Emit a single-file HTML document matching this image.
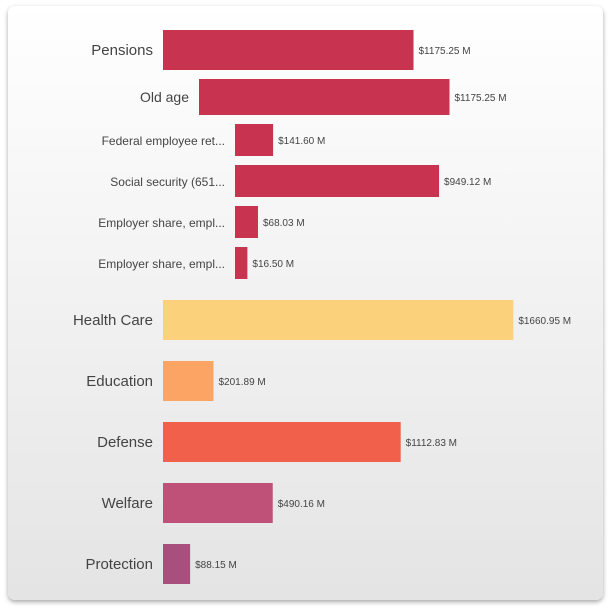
<!DOCTYPE html>
<html><head><meta charset="utf-8"><style>
html,body{margin:0;padding:0;width:611px;height:611px;background:#fff;overflow:hidden}
#panel{position:absolute;left:8px;top:6px;width:595px;height:594px;border-radius:7px;background:linear-gradient(#ffffff,#e4e4e4);box-shadow:0 2px 5px rgba(0,0,0,0.35)}
svg{position:absolute;left:0;top:0}
text{font-family:"Liberation Sans",sans-serif;fill:#444}
</style></head><body>
<div id="panel"></div>
<svg id="chart" width="611" height="611"></svg>
<script>
const labels=["Pensions","Old age","Federal employee ret...","Social security (651...","Employer share, empl...","Employer share, empl...","Health Care","Education","Defense","Welfare","Protection"];
const values=[1175.25,1175.25,141.60,949.12,68.03,16.50,1660.95,201.89,1112.83,490.16,88.15];
const levels=[0,1,2,2,2,2,0,0,0,0,0];
const colors=["#c8344f","#c8344f","#c8344f","#c8344f","#c8344f","#c8344f","#fbd27b","#fca463","#f0604a","#bf5077","#a94f7e"];
const rowTop=[30,79,124,165,206,247,300,361,422,483,544];
const rowH=[40,36,32,32,32,32,40,40,40,40,40];
const svg=document.getElementById('chart');
const NS='http://www.w3.org/2000/svg';
function xw(v){return 9+0.2055*v;}
const starts=[163,199,235];
labels.forEach((lab,i)=>{
  const x0=starts[levels[i]];
  const w=xw(values[i]);
  const r=document.createElementNS(NS,'rect');
  r.setAttribute('x',x0);r.setAttribute('y',rowTop[i]);r.setAttribute('width',w);r.setAttribute('height',rowH[i]);r.setAttribute('fill',colors[i]);
  
  
  svg.appendChild(r);
  const cy=rowTop[i]+rowH[i]/2;
  const t=document.createElementNS(NS,'text');
  t.setAttribute('x',x0-10);t.setAttribute('y',cy+5);t.setAttribute('text-anchor','end');
  t.setAttribute('font-size',levels[i]===2?12:(levels[i]===1?14:15));
  t.textContent=lab;
  
  
  svg.appendChild(t);
  const v=document.createElementNS(NS,'text');
  v.setAttribute('x',x0+w+5);v.setAttribute('y',cy+4);v.setAttribute('font-size',10);
  v.textContent='$'+values[i].toFixed(2)+' M';
  
  
  svg.appendChild(v);
});
</script>
</body></html>
